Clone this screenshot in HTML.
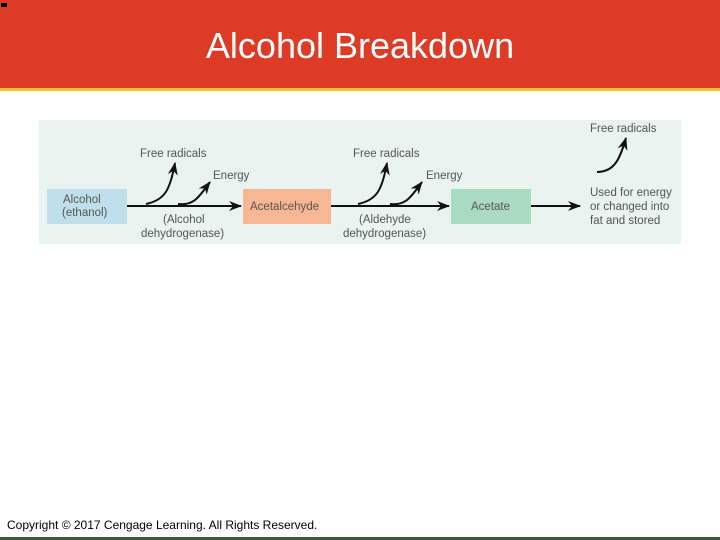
<!DOCTYPE html>
<html><head><style>
body{margin:0;width:720px;height:540px;background:#fff;position:relative;overflow:hidden;font-family:"Liberation Sans",sans-serif}
.hdr{position:absolute;left:0;top:0;width:720px;height:88px;background:#de3b27}
.yl{position:absolute;left:0;top:88px;width:720px;height:3px;background:#f7c430}
.title{position:absolute;left:0;top:25px;width:720px;text-align:center;color:#fff;font-size:36px}
.copy{position:absolute;left:7px;top:518px;font-size:12px;color:#000}
.bot{position:absolute;left:0;top:537px;width:720px;height:3px;background:#3a5a3a}
</style></head><body>
<div class="hdr"></div><div class="yl"></div>
<div style="position:absolute;left:1px;top:3px;width:6px;height:4px;background:#000"></div>
<div class="title">Alcohol Breakdown</div>
<svg style="position:absolute;left:0;top:0" width="720" height="540" font-family="Liberation Sans, sans-serif" font-size="11.5" fill="#555">
<defs><marker id="a" markerWidth="13" markerHeight="10" refX="12" refY="5" orient="auto" markerUnits="userSpaceOnUse"><path d="M0,0 L13,5 L0,10 L4,5z" fill="#111"/></marker></defs>
<rect x="39" y="120" width="642" height="124" fill="#e9f3ef"/>
<rect x="47" y="189" width="80" height="35" fill="#bfe0ea"/>
<rect x="243" y="189" width="88" height="35" fill="#f7b792"/>
<rect x="451" y="189" width="80" height="35" fill="#a9dbc2"/>
<g stroke="#111" stroke-width="2" fill="none">
<line x1="127" y1="206" x2="241" y2="206" marker-end="url(#a)"/>
<line x1="331" y1="206" x2="449" y2="206" marker-end="url(#a)"/>
<line x1="531" y1="206" x2="580" y2="206" marker-end="url(#a)"/>
<path d="M146,204 C165,200 170,190 175,163" marker-end="url(#a)"/>
<path d="M178,204 C195,206 200,195 210,182" marker-end="url(#a)"/>
<path d="M358,204 C377,200 382,190 387,163" marker-end="url(#a)"/>
<path d="M390,204 C407,206 412,195 422,182" marker-end="url(#a)"/>
<path d="M597,172 C615,172 620,158 626,138" marker-end="url(#a)"/>
</g>
<text x="140" y="157">Free radicals</text>
<text x="213" y="179">Energy</text>
<text x="63" y="203">Alcohol</text><text x="62" y="216">(ethanol)</text>
<text x="163" y="223">(Alcohol</text><text x="141" y="237">dehydrogenase)</text>
<text x="250" y="210">Acetalcehyde</text>
<text x="353" y="157">Free radicals</text>
<text x="426" y="179">Energy</text>
<text x="359" y="223">(Aldehyde</text><text x="343" y="237">dehydrogenase)</text>
<text x="471" y="210">Acetate</text>
<text x="590" y="132">Free radicals</text>
<text x="590" y="196">Used for energy</text>
<text x="590" y="210">or changed into</text>
<text x="590" y="224">fat and stored</text>
</svg>
<div class="copy">Copyright © 2017 Cengage Learning. All Rights Reserved.</div>
<div class="bot"></div>
</body></html>
